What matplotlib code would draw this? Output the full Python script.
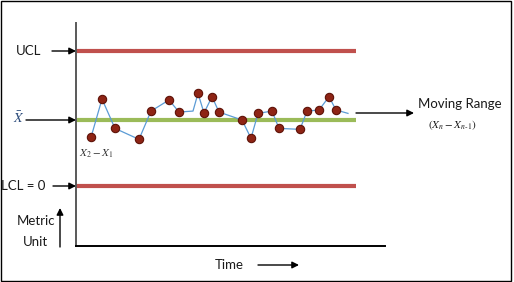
import matplotlib

matplotlib.use("Agg")
import matplotlib.pyplot as plt
from matplotlib.patches import Rectangle
from matplotlib.text import Annotation

plt.rcParams["font.family"] = ["Lato", "DejaVu Sans"]
plt.rcParams["mathtext.fontset"] = "stix"

times = [15, 26, 39, 63, 75, 93, 103, 117, 122, 128, 136, 143,
         166, 175, 182, 196, 203, 224, 231, 243, 253, 260, 272]
values = [3.6, 6.43, 4.26, 3.45, 5.54, 6.36, 5.47, 5.54, 6.85, 5.40, 6.60, 5.47,
          4.88, 3.53, 5.37, 5.54, 4.26, 4.19, 5.54, 5.62, 6.60, 5.62, 5.37]
# vertices drawn without a marker
no_marker = [7, 22]

ucl = 10.0
mean = 4.86
lcl = 0.0
line_end = 280

W, H = 514, 282


def px(x, y):
    # figure pixel from top-left image coordinates
    return (x, H - y)


fig = plt.figure(figsize=(W / 100, H / 100), dpi=100)

ax = fig.add_axes([76 / W, (H - 245.7) / H, (385 - 76) / W, (245.7 - 23) / H])
ax.set_xlim(0, 309)
ax.set_ylim(-4.41, 12.05)
ax.set_xticks([])
ax.set_yticks([])
for side in ("top", "right"):
    ax.spines[side].set_visible(False)
ax.spines["left"].set_color("#595959")
ax.spines["left"].set_linewidth(1.4)
ax.spines["bottom"].set_color("black")
ax.spines["bottom"].set_linewidth(1.4)
ax.patch.set_alpha(0)

ax.hlines([ucl, lcl], 0, line_end, color="#C0504D", lw=3.0, zorder=2)
ax.hlines(mean, 0, line_end, color="#9BBB59", lw=3.0, zorder=2)

marked = [i for i in range(len(times)) if i not in no_marker]
ax.plot(times, values, color="#5B9BD5", lw=0.9, zorder=3,
        marker="o", markevery=marked, markersize=6,
        markerfacecolor="#8E2415", markeredgecolor="#5E1208",
        markeredgewidth=0.8)

ax.text(times[0] - 12, values[0] - 0.75, "$X_2 - X_1$", fontsize=8,
        color="#333333", ha="left", va="top")

arrow = dict(arrowstyle="-|>", color="black", lw=1.0, mutation_scale=10,
             shrinkA=0, shrinkB=0)


def pointer(x0, y0, x1, y1):
    fig.add_artist(Annotation("", xy=px(x1, y1), xytext=px(x0, y0),
                              xycoords="figure pixels",
                              textcoords="figure pixels",
                              arrowprops=arrow))


def label(x, y, s, size=9.5, color="#1a1a1a"):
    fig.text(x / W, (H - y) / H, s, fontsize=size, color=color,
             ha="center", va="center")


pointer(52, 51, 76, 51)
label(29, 51, "UCL")
pointer(26, 120, 76, 120)
label(19, 117, r"$\bar{X}$", size=10, color="#2a4a7a")
pointer(53, 186, 76, 186)
label(23, 186, "LCL = 0")
label(36, 221, "Metric")
label(36, 242, "Unit")
pointer(60, 247, 60, 208)

pointer(356, 113, 414, 113)
label(460, 104, "Moving Range")
label(452, 125, r"$(X_n - X_{n\text{-}1})$", size=8)

label(229, 265, "Time")
pointer(258, 265, 299, 265)

fig.add_artist(Rectangle((0.8 / W, 1.5 / H), 510 / W, 279.5 / H,
                         transform=fig.transFigure, fill=False,
                         edgecolor="black", lw=1.0))

fig.savefig("out.png", dpi=100)
